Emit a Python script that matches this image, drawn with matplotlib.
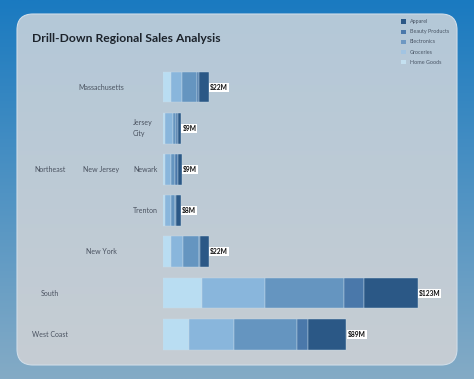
import numpy as np
import matplotlib
matplotlib.use("Agg")
import matplotlib.pyplot as plt
from matplotlib.patches import FancyBboxPatch
from matplotlib.transforms import blended_transform_factory

# dane
rows = ["Massachusetts", "Jersey City", "Newark", "Trenton", "New York", "South", "West Coast"]
categories = ["Home Goods", "Groceries", "Electronics", "Beauty Products", "Apparel"]
home_goods = [3.7, 1.1, 0.8, 1.1, 3.7, 19.0, 12.7]
groceries = [5.5, 3.7, 2.9, 2.6, 5.9, 30.3, 21.6]
electronics = [7.3, 1.6, 2.2, 1.9, 7.6, 38.2, 30.6]
beauty = [0.9, 0.8, 1.3, 0.8, 0.8, 9.8, 5.3]
apparel = [4.6, 1.6, 1.9, 2.1, 4.1, 25.7, 18.4]
total_labels = ["$22M", "$9M", "$9M", "$8M", "$22M", "$123M", "$89M"]

level1 = [("Northeast", 2), ("South", 5), ("West Coast", 6)]
level2 = [("Massachusetts", 0), ("New Jersey", 2), ("New York", 4)]
level3 = [("Jersey\nCity", 1), ("Newark", 2), ("Trenton", 3)]

colors = ["#b9ddf2", "#89b6dc", "#6595c0", "#4a78aa", "#2b5886"]
legend_order = ["Apparel", "Beauty Products", "Electronics", "Groceries", "Home Goods"]
legend_colors = ["#2b5886", "#4a78aa", "#6e98c2", "#a2c4e2", "#c4e0f0"]

plt.rcParams["font.family"] = ["Lato", "DejaVu Sans"]
W, H = 474, 379
fig = plt.figure(figsize=(W / 100, H / 100), dpi=100)

# tło z gradientem
bg = fig.add_axes([0, 0, 1, 1])
grad = np.linspace(0, 1, 256).reshape(-1, 1)
c_top = np.array([0x1a, 0x7a, 0xc0]) / 255
c_bot = np.array([0x84, 0xab, 0xc6]) / 255
img = c_top[None, None, :] * (1 - grad[:, :, None]) + c_bot[None, None, :] * grad[:, :, None]
bg.imshow(img, aspect="auto", extent=[0, W, H, 0])
bg.set_xlim(0, W)
bg.set_ylim(H, 0)
bg.axis("off")

# karta
card_grad = np.linspace(0, 1, 256).reshape(-1, 1)
k_top = np.array([0xb4, 0xc8, 0xd8]) / 255
k_bot = np.array([0xc6, 0xcd, 0xd3]) / 255
card_img = k_top[None, None, :] * (1 - card_grad[:, :, None]) + k_bot[None, None, :] * card_grad[:, :, None]
card = FancyBboxPatch((17, 14), 440, 351, boxstyle="round,pad=0,rounding_size=16",
                      facecolor="none", edgecolor="#d0dde8", linewidth=0.8, zorder=2)
bg.add_patch(card)
im = bg.imshow(card_img, aspect="auto", extent=[17, 457, 365, 14], zorder=1)
im.set_clip_path(card)
bg.set_xlim(0, W)
bg.set_ylim(H, 0)

bg.text(32, 38, "Drill-Down Regional Sales Analysis", fontsize=8.7, fontweight="bold",
        color="#1c232b", va="center", ha="left")

# legenda
for i, (lab, col) in enumerate(zip(legend_order, legend_colors)):
    y = 21.7 + i * 10.1
    bg.add_patch(plt.Rectangle((401.5, y - 2.3), 4.6, 4.6, facecolor=col, edgecolor="none", zorder=3))
    bg.text(410, y, lab, fontsize=3.9, color="#4a5666", va="center", ha="left", zorder=3)

# wykres słupkowy
top_px, bot_px = 66.4, 354.8
left_px, right_px = 163, 445
ax = fig.add_axes([left_px / W, 1 - bot_px / H, (right_px - left_px) / W, (bot_px - top_px) / H])
ax.patch.set_alpha(0)
ypos = np.arange(len(rows))
left = np.zeros(len(rows))
for vals, col in zip([home_goods, groceries, electronics, beauty, apparel], colors):
    ax.barh(ypos, vals, left=left, height=0.75, color=col, edgecolor="#c9dbe8", linewidth=0.3)
    left += np.array(vals)
for y, tot, lab in zip(ypos, left, total_labels):
    ax.text(tot + 0.6, y, lab, fontsize=4.8, fontweight="bold", color="#111111", va="center", ha="left",
            bbox=dict(boxstyle="square,pad=0.15", facecolor="white", edgecolor="none"))
ax.set_xlim(0, (right_px - left_px) / 2.07)
ax.set_ylim(len(rows) - 0.5, -0.5)
ax.axis("off")

trans = blended_transform_factory(bg.transData, ax.transData)
for lab, r in level1:
    ax.text(50, r, lab, transform=trans, fontsize=5, color="#4a5260", ha="center", va="center")
for lab, r in level2:
    ax.text(101, r, lab, transform=trans, fontsize=5, color="#4a5260", ha="center", va="center")
for lab, r in level3:
    ax.text(133, r, lab, transform=trans, fontsize=5, color="#4a5260", ha="left", va="center",
            linespacing=1.6)

fig.savefig("out.png", dpi=100)
